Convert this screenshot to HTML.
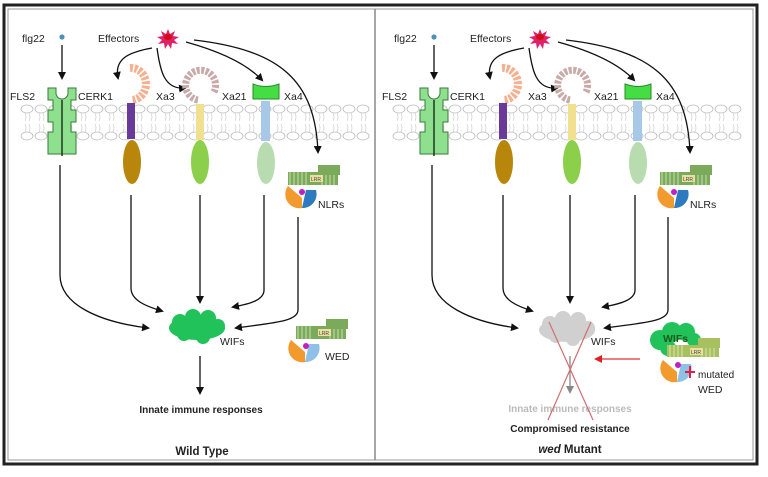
<!DOCTYPE html>
<html><head><meta charset="utf-8"><style>
html,body{margin:0;padding:0;background:#fff;width:768px;height:477px;overflow:hidden}
svg{display:block;font-family:"Liberation Sans",Arial,sans-serif}
</style></head><body>
<svg width="768" height="477" viewBox="0 0 768 477" xmlns="http://www.w3.org/2000/svg">
<defs>
<marker id="ah" markerWidth="8" markerHeight="8" refX="6" refY="4" orient="auto" markerUnits="userSpaceOnUse"><path d="M0,0 L8,4 L0,8 z" fill="#111"/></marker>
<marker id="ahg" markerWidth="8" markerHeight="8" refX="6" refY="4" orient="auto" markerUnits="userSpaceOnUse"><path d="M0,0 L8,4 L0,8 z" fill="#888"/></marker>
<marker id="ahr" markerWidth="8" markerHeight="8" refX="6" refY="4" orient="auto" markerUnits="userSpaceOnUse"><path d="M0,0 L8,4 L0,8 z" fill="#d22"/></marker>
<pattern id="lip" x="20" y="103" width="14" height="38" patternUnits="userSpaceOnUse">
<ellipse cx="7" cy="6" rx="6" ry="4" fill="#fff" stroke="#bbb" stroke-width="0.8"/>
<ellipse cx="7" cy="33" rx="6" ry="4" fill="#fff" stroke="#bbb" stroke-width="0.8"/>
<path d="M5,10 q2,4 0,8 M9,10 q2,4 0,8 M5,21 q2,4 0,8 M9,21 q2,4 0,8" stroke="#ccc" fill="none" stroke-width="0.7"/>
</pattern>
<g id="top">
<text x="22" y="42" font-size="10.5" fill="#222">flg22</text>
<circle cx="62" cy="37" r="2.6" fill="#4a90c0"/>
<text x="98" y="42" font-size="10.5" fill="#222">Effectors</text>
<path d="M168,29 l2,5 5,-3 -2,5 6,1 -5,3 4,4 -6,-1 -1,6 -3,-5 -3,5 -1,-6 -6,1 4,-4 -5,-3 6,-1 -2,-5 5,3z" fill="#e0206a"/>
<ellipse cx="168" cy="37" rx="4" ry="3" fill="#d01010"/>
<rect x="20" y="103" width="350" height="38" fill="url(#lip)"/>
<path d="M62,45 L62,78" stroke="#111" stroke-width="1.3" marker-end="url(#ah)"/>
<path d="M48,88 h8 v5 a6,6 0 0 0 12,0 v-5 h8 v12 h-5 v10 h5 v12 h-5 v10 h5 v22 h-28 v-22 h5 v-10 h-5 v-12 h5 v-10 h-5z" fill="#8ee08e" stroke="#3a7a3a" stroke-width="1"/>
<line x1="62" y1="100" x2="62" y2="156" stroke="#1a3a1a" stroke-width="1.5"/>
<text x="10" y="100" font-size="10.5" fill="#222">FLS2</text>
<text x="78" y="100" font-size="10.5" fill="#222">CERK1</text>
<path d="M152,48 C130,52 114,58 118,78" stroke="#111" stroke-width="1.3" fill="none" marker-end="url(#ah)"/>
<path d="M157,48 C160,70 164,90 185,88" stroke="#111" stroke-width="1.3" fill="none" marker-end="url(#ah)"/>
<path d="M186,42 C215,50 245,62 262,80" stroke="#111" stroke-width="1.3" fill="none" marker-end="url(#ah)"/>
<path d="M194,40 C280,50 315,80 318,152" stroke="#111" stroke-width="1.3" fill="none" marker-end="url(#ah)"/>
<path d="M130,68 A14,15 0 1 1 132,100" fill="none" stroke="#f5b090" stroke-width="8" stroke-dasharray="3 1.5"/>
<text x="156" y="100" font-size="10.5" fill="#222">Xa3</text>
<rect x="127" y="103" width="8" height="36" fill="#6a3a9a"/>
<ellipse cx="132" cy="162" rx="9" ry="22" fill="#b8860b"/>
<path d="M198,100 A15,15 0 1 1 214,92" fill="none" stroke="#c8aaa8" stroke-width="7" stroke-dasharray="3 1.5"/>
<text x="222" y="100" font-size="10.5" fill="#222">Xa21</text>
<rect x="196" y="104" width="8" height="36" fill="#f0e090"/>
<ellipse cx="200" cy="162" rx="9" ry="22" fill="#8ccf4a"/>
<path d="M253,84 q13,5 26,0 v15 h-26z" fill="#44dd44" stroke="#2a8a2a" stroke-width="1"/>
<text x="284" y="100" font-size="10.5" fill="#222">Xa4</text>
<rect x="261" y="101" width="9" height="40" fill="#a8c8e8"/>
<ellipse cx="266" cy="163" rx="9" ry="21" fill="#b8dcb0"/>
<g>
<rect x="288" y="172" width="50" height="13" fill="#7aaa5a"/>
<path d="M290,172v13M294,172v13M298,172v13M302,172v13M306,172v13M322,172v13M326,172v13M330,172v13M334,172v13" stroke="#c8e0b0" stroke-width="1"/>
<rect x="318" y="165" width="22" height="10" fill="#7aaa5a"/>
<rect x="310" y="175" width="13" height="7" fill="#e8e0a0"/>
<text x="311" y="181" font-size="5" fill="#444">LRR</text>
<path d="M288,186 a14,14 0 0 0 14,22 v-10z" fill="#f29a2e"/>
<path d="M302,208 a14,14 0 0 0 14,-18 h-10z" fill="#2d7ac0"/>
<circle cx="302" cy="192" r="3" fill="#c020c0"/>
<text x="318" y="208" font-size="10.5" fill="#222">NLRs</text>
</g>
</g>
</defs>
<!-- frame -->
<rect x="4" y="5" width="753" height="459" fill="#fff" stroke="#222" stroke-width="3"/>
<rect x="8" y="9" width="745" height="451" fill="none" stroke="#999" stroke-width="1"/>
<line x1="375" y1="9" x2="375" y2="460" stroke="#888" stroke-width="1.5"/>

<!-- LEFT -->
<use href="#top"/>
<path d="M60,165 V275 C60,305 100,322 148,328" stroke="#111" stroke-width="1.3" fill="none" marker-end="url(#ah)"/>
<path d="M131,195 V288 C131,300 145,306 162,311" stroke="#111" stroke-width="1.3" fill="none" marker-end="url(#ah)"/>
<path d="M200,195 V302" stroke="#111" stroke-width="1.3" fill="none" marker-end="url(#ah)"/>
<path d="M264,195 V290 C264,300 250,304 233,307" stroke="#111" stroke-width="1.3" fill="none" marker-end="url(#ah)"/>
<path d="M298,217 V310 C298,322 270,323 236,328" stroke="#111" stroke-width="1.3" fill="none" marker-end="url(#ah)"/>
<g fill="#22c25a"><ellipse cx="197" cy="328" rx="28" ry="12"/><circle cx="180" cy="322" r="8"/><circle cx="193" cy="317" r="8"/><circle cx="208" cy="318" r="8"/><circle cx="218" cy="326" r="7"/><circle cx="184" cy="334" r="7"/><circle cx="203" cy="337" r="7"/></g>
<text x="220" y="345" font-size="10.5" fill="#222">WIFs</text>
<g>
<rect x="296" y="326" width="50" height="13" fill="#7aaa5a"/>
<path d="M298,326v13M302,326v13M306,326v13M310,326v13M330,326v13M334,326v13M338,326v13M342,326v13" stroke="#c8e0b0"/>
<rect x="326" y="319" width="22" height="10" fill="#7aaa5a"/>
<rect x="318" y="329" width="13" height="7" fill="#e8e0a0"/>
<text x="319" y="335" font-size="5" fill="#444">LRR</text>
<path d="M291,340 a14,14 0 0 0 14,22 v-10z" fill="#f29a2e"/>
<path d="M305,362 a14,14 0 0 0 14,-18 h-10z" fill="#8ec0e8"/>
<circle cx="306" cy="346" r="3" fill="#c020c0"/>
<text x="325" y="360" font-size="10.5" fill="#222">WED</text>
</g>
<path d="M200,356 V393" stroke="#111" stroke-width="1.3" marker-end="url(#ah)"/>
<text x="201" y="413" font-size="10" font-weight="bold" fill="#222" text-anchor="middle">Innate immune responses</text>
<text x="202" y="455" font-size="11.5" font-weight="bold" fill="#222" text-anchor="middle">Wild Type</text>

<!-- RIGHT -->
<use href="#top" x="372"/>
<path d="M432,165 V275 C432,305 472,322 517,328" stroke="#111" stroke-width="1.3" fill="none" marker-end="url(#ah)"/>
<path d="M503,195 V288 C503,300 517,306 532,311" stroke="#111" stroke-width="1.3" fill="none" marker-end="url(#ah)"/>
<path d="M570,195 V302" stroke="#111" stroke-width="1.3" fill="none" marker-end="url(#ah)"/>
<path d="M635,195 V290 C635,300 620,304 603,307" stroke="#111" stroke-width="1.3" fill="none" marker-end="url(#ah)"/>
<path d="M668,217 V310 C668,322 640,323 605,328" stroke="#111" stroke-width="1.3" fill="none" marker-end="url(#ah)"/>
<g fill="#d0d0d0"><ellipse cx="567" cy="330" rx="28" ry="12"/><circle cx="550" cy="324" r="8"/><circle cx="563" cy="319" r="8"/><circle cx="578" cy="320" r="8"/><circle cx="588" cy="328" r="7"/><circle cx="556" cy="336" r="7"/><circle cx="573" cy="339" r="7"/></g>
<text x="591" y="345" font-size="10.5" fill="#222">WIFs</text>
<path d="M570,356 V392" stroke="#888" stroke-width="1.3" marker-end="url(#ahg)"/>
<text x="570" y="412" font-size="10" font-weight="bold" fill="#bbb" text-anchor="middle">Innate immune responses</text>
<line x1="549" y1="322" x2="593" y2="420" stroke="#d07070" stroke-width="1.2"/>
<line x1="591" y1="322" x2="548" y2="420" stroke="#d07070" stroke-width="1.2"/>
<path d="M640,359 H596" stroke="#d33" stroke-width="1.2" marker-end="url(#ahr)"/>
<g>
<circle cx="660" cy="340" r="10" fill="#22c25a"/><circle cx="672" cy="332" r="10" fill="#22c25a"/><circle cx="686" cy="332" r="9" fill="#22c25a"/><circle cx="694" cy="340" r="7" fill="#22c25a"/><circle cx="668" cy="348" r="8" fill="#22c25a"/>
<text x="663" y="342" font-size="10.5" font-weight="bold" fill="#1a5a1a">WIFs</text>
<rect x="667" y="345" width="52" height="12" fill="#a8c060"/>
<path d="M670,345v12M674,345v12M678,345v12M682,345v12M702,345v12M706,345v12M710,345v12M714,345v12" stroke="#d8e8b0"/>
<rect x="698" y="338" width="22" height="10" fill="#a8c060"/>
<rect x="690" y="348" width="13" height="7" fill="#e8e0a0"/>
<text x="691" y="354" font-size="5" fill="#444">LRR</text>
<path d="M663,360 a14,14 0 0 0 14,22 v-10z" fill="#f29a2e"/>
<path d="M677,382 a14,14 0 0 0 14,-18 h-10z" fill="#8ec0e8"/>
<circle cx="678" cy="365" r="3" fill="#c020c0"/>
<path d="M690,366 v12 M685,372 h10" stroke="#e02040" stroke-width="2"/>
<text x="698" y="378" font-size="10" fill="#222">mutated</text>
<text x="698" y="393" font-size="10.5" fill="#222">WED</text>
</g>
<text x="570" y="432" font-size="10" font-weight="bold" fill="#222" text-anchor="middle">Compromised resistance</text>
<text x="570" y="453" font-size="11.5" font-weight="bold" fill="#222" text-anchor="middle"><tspan font-style="italic">wed</tspan> Mutant</text>
</svg>
</body></html>
